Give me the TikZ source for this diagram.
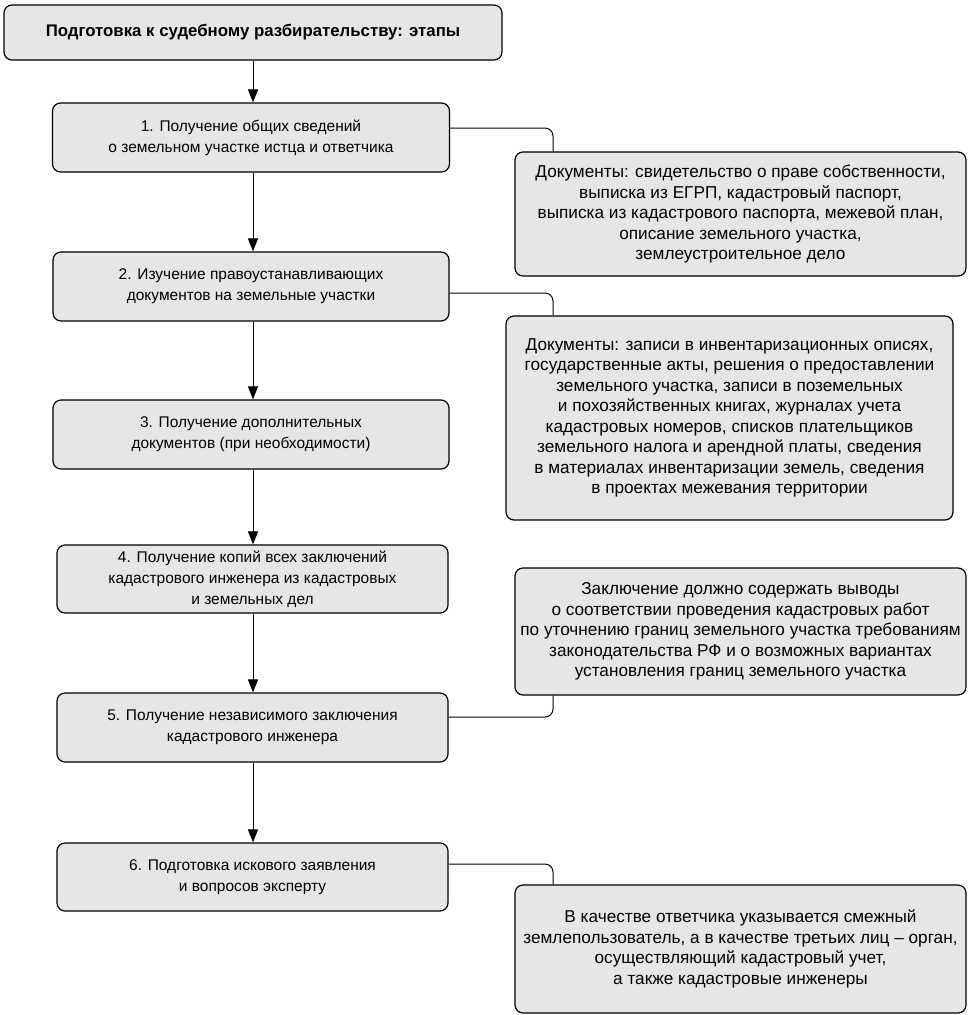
\documentclass[tikz,border=0pt]{standalone}
\usepackage{fontspec}
\setmainfont{Liberation Sans}
\usetikzlibrary{arrows.meta}
\definecolor{boxfill}{HTML}{E6E6E6}
\tikzset{
  box/.style={draw=black, line width=1.2pt, fill=boxfill, rounded corners=8pt, align=center,
    inner sep=0pt, font=\fontsize{15.5}{21}\selectfont},
  docbox/.style={box, font=\fontsize{17.2}{20.5}\selectfont},
  arr/.style={line width=1pt, -{Triangle[length=13pt,width=10pt]}},
  con/.style={line width=1pt, rounded corners=8pt},
}
\begin{document}
\begin{tikzpicture}[x=1pt,y=-1pt]
\useasboundingbox (0,0) rectangle (969,1015);
\node[box, minimum width=498pt, minimum height=55pt, font=\bfseries\fontsize{16.8}{21}\selectfont] (t) at (253,32.5) {Подготовка к судебному разбирательству: этапы};
\node[box, minimum width=397pt, minimum height=69pt] (b1) at (251,137.5) {1. Получение общих сведений\\о земельном участке истца и ответчика};
\node[box, minimum width=396pt, minimum height=69pt] (b2) at (251,286.5) {2. Изучение правоустанавливающих\\документов на земельные участки};
\node[box, minimum width=396pt, minimum height=69pt] (b3) at (251,434.5) {3. Получение дополнительных\\документов (при необходимости)};
\node[box, minimum width=391pt, minimum height=68pt] (b4) at (252.5,579) {4. Получение копий всех заключений\\кадастрового инженера из кадастровых\\и земельных дел};
\node[box, minimum width=391pt, minimum height=69pt] (b5) at (252.5,727.5) {5. Получение независимого заключения\\кадастрового инженера};
\node[box, minimum width=391pt, minimum height=68pt] (b6) at (252.5,877) {6. Подготовка искового заявления\\и вопросов эксперту};
\node[docbox, minimum width=451pt, minimum height=124pt] (d1) at (740.5,214) {Документы: свидетельство о праве собственности,\\выписка из ЕГРП, кадастровый паспорт,\\выписка из кадастрового паспорта, межевой план,\\описание земельного участка,\\землеустроительное дело};
\node[docbox, minimum width=447pt, minimum height=204pt] (d2) at (729.5,418) {Документы: записи в инвентаризационных описях,\\государственные акты, решения о предоставлении\\земельного участка, записи в поземельных\\и похозяйственных книгах, журналах учета\\кадастровых номеров, списков плательщиков\\земельного налога и арендной платы, сведения\\в материалах инвентаризации земель, сведения\\в проектах межевания территории};
\node[docbox, minimum width=451pt, minimum height=127pt] (d5) at (740.5,631.5) {Заключение должно содержать выводы\\о соответствии проведения кадастровых работ\\по уточнению границ земельного участка требованиям\\законодательства РФ и о возможных вариантах\\установления границ земельного участка};
\node[docbox, minimum width=451pt, minimum height=128pt] (d6) at (740.5,949) {В качестве ответчика указывается смежный\\землепользователь, а в качестве третьих лиц – орган,\\осуществляющий кадастровый учет,\\а также кадастровые инженеры};
\draw[arr] (t.south -| 253,0) -- (b1.north -| 253,0);
\draw[arr] (b1.south -| 253,0) -- (b2.north -| 253,0);
\draw[arr] (b2.south -| 253,0) -- (b3.north -| 253,0);
\draw[arr] (b3.south -| 253,0) -- (b4.north -| 253,0);
\draw[arr] (b4.south -| 253,0) -- (b5.north -| 253,0);
\draw[arr] (b5.south -| 253,0) -- (b6.north -| 253,0);
\coordinate (k1) at (553,128);
\coordinate (k2) at (553,293);
\coordinate (k5) at (553,717);
\coordinate (k6) at (553,864);
\draw[con] (b1.east |- k1) -- (k1) -- (k1 |- d1.north);
\draw[con] (b2.east |- k2) -- (k2) -- (k2 |- d2.north);
\draw[con] (b5.east |- k5) -- (k5) -- (k5 |- d5.south);
\draw[con] (b6.east |- k6) -- (k6) -- (k6 |- d6.north);
\end{tikzpicture}
\end{document}
